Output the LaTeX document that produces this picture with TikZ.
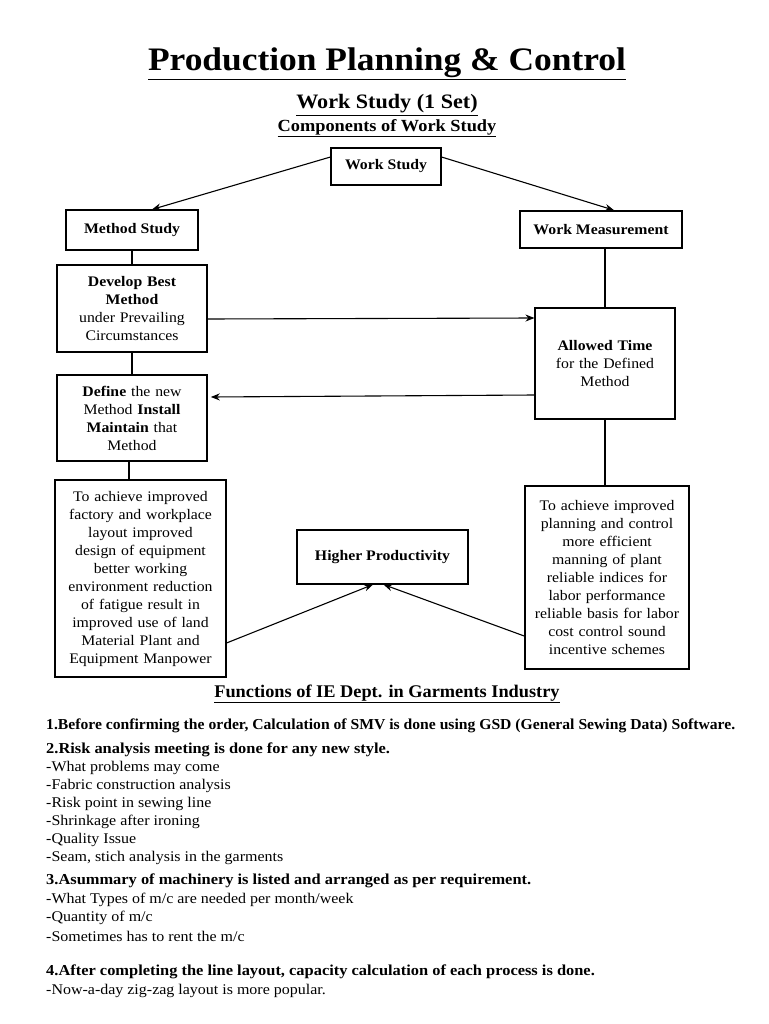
\documentclass[tikz,border=0pt]{standalone}
\usepackage{fontspec}
\setmainfont[FakeStretch=1.08]{Liberation Serif}
\newfontfamily\condfont[FakeStretch=1.03]{Liberation Serif}
\usetikzlibrary{arrows.meta}
\begin{document}
\begin{tikzpicture}[x=1pt,y=-1pt,
  box/.style={draw, line width=1.1pt, align=center, inner sep=2pt, font=\fontsize{14.6}{18}\selectfont},
  tbox/.style={box, line width=1.6pt},
  link/.style={line width=1.1pt},
  arr/.style={line width=1.1pt, -{Stealth[length=9pt,width=7pt]}},
  head/.style={anchor=west, inner sep=0pt, font=\bfseries\fontsize{15.2}{18}\selectfont},
  item/.style={anchor=west, inner sep=0pt, font=\fontsize{14.8}{18}\selectfont}]
\useasboundingbox (0,0) rectangle (768,1024);

% titles
\node[font=\bfseries\fontsize{32.8}{40}\selectfont, inner sep=0pt] (title) at (387,64) {\underline{Production Planning \& Control}};
\node[font=\bfseries\fontsize{20.5}{24}\selectfont, inner sep=0pt] (sub1) at (387,105) {\underline{Work Study (1 Set)}};
\node[font=\bfseries\fontsize{17}{20}\selectfont, inner sep=0pt] (sub2) at (387,128) {\underline{Components of Work Study}};

% boxes
\node[box, minimum width=110pt, minimum height=37pt] (ws) at (386,166.5) {\textbf{Work Study}};
\node[box, minimum width=132pt, minimum height=40pt] (ms) at (132,230) {\textbf{Method Study}};
\node[tbox, minimum width=162pt, minimum height=37pt] (wm) at (601,229.5) {\textbf{Work Measurement}};
\node[tbox, minimum width=150pt, minimum height=87pt, text width=144pt] (db) at (132,308.5)
  {\textbf{Develop Best}\\\textbf{Method}\\under Prevailing\\Circumstances};
\node[tbox, minimum width=150pt, minimum height=86pt, text width=144pt] (df) at (132,418)
  {\textbf{Define} the new\\Method \textbf{Install}\\\textbf{Maintain} that\\Method};
\node[box, minimum width=140pt, minimum height=111pt, text width=134pt] (at) at (605,363.5)
  {\textbf{Allowed Time}\\for the Defined\\Method};
\node[box, minimum width=171pt, minimum height=197pt, text width=165pt] (lb) at (140.5,578.5)
  {To achieve improved\\factory and workplace\\layout improved\\design of equipment\\better working\\environment reduction\\of fatigue result in\\improved use of land\\Material Plant and\\Equipment Manpower};
\node[box, minimum width=171pt, minimum height=54pt] (hp) at (382.5,557) {\textbf{Higher Productivity}};
\node[tbox, minimum width=164pt, minimum height=183pt, text width=158pt] (rb) at (607,577.5)
  {To achieve improved\\planning and control\\more efficient\\manning of plant\\reliable indices for\\labor performance\\reliable basis for labor\\cost control sound\\incentive schemes};

% connectors
\draw[arr] ([yshift=9.5pt]ws.west) -- ([xshift=20pt]ms.north);
\draw[arr] ([yshift=9.5pt]ws.east) -- ([xshift=13pt]wm.north);
\draw[link] (ms.south) -- (db.north);
\draw[link] (db.south) -- (df.north);
\draw[link] ([xshift=-3pt]df.south) -- ([xshift=-3pt]df.south |- lb.north);
\draw[link] (at.north) -- (at.north |- wm.south);
\draw[link] (at.south) -- (at.south |- rb.north);
\draw[arr] ([yshift=-10.5pt]db.east) -- ([yshift=45.5pt]at.west);
\draw[arr] ([yshift=-31.5pt]at.west) -- ([yshift=21pt,xshift=3pt]df.east);
\draw[arr] ([yshift=-64.5pt]lb.east) -- ([xshift=-9.5pt]hp.south);
\draw[arr] ([yshift=-58.5pt]rb.west) -- ([xshift=1pt]hp.south);

% functions
\node[font=\condfont\bfseries\fontsize{17.8}{22}\selectfont, inner sep=0pt] (fh) at (387,694) {\underline{Functions of IE Dept. in Garments Industry}};
\node[head, font=\condfont\bfseries\fontsize{15.2}{18}\selectfont] (i1) at (46,726) {1.Before confirming the order, Calculation of SMV is done using GSD (General Sewing Data) Software.};
\node[head] (i2) at (46,750) {2.Risk analysis meeting is done for any new style.};
\node[item] (s21) at (46,768) {-What problems may come};
\node[item] (s22) at (46,786) {-Fabric construction analysis};
\node[item] (s23) at (46,804) {-Risk point in sewing line};
\node[item] (s24) at (46,822) {-Shrinkage after ironing};
\node[item] (s25) at (46,840) {-Quality Issue};
\node[item] (s26) at (46,858) {-Seam, stich analysis in the garments};
\node[head] (i3) at (46,881) {3.Asummary of machinery is listed and arranged as per requirement.};
\node[item] (s31) at (46,900) {-What Types of m/c are needed per month/week};
\node[item] (s32) at (46,918) {-Quantity of m/c};
\node[item] (s33) at (46,936) {-Sometimes has to rent the m/c};
\node[head] (i4) at (46,972) {4.After completing the line layout, capacity calculation of each process is done.};
\node[item] (s41) at (46,991) {-Now-a-day zig-zag layout is more popular.};
\end{tikzpicture}
\end{document}
